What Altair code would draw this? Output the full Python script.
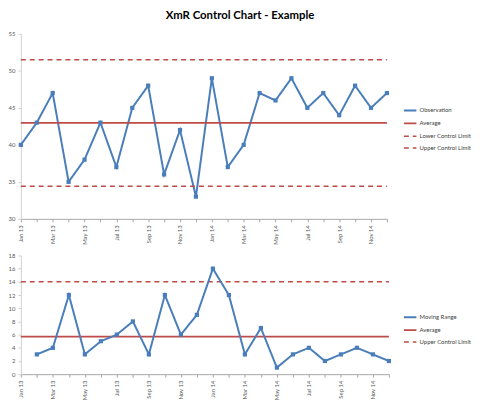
import altair as alt
import pandas as pd

months = ["Jan 13", "Feb 13", "Mar 13", "Apr 13", "May 13", "Jun 13", "Jul 13", "Aug 13",
          "Sep 13", "Oct 13", "Nov 13", "Dec 13", "Jan 14", "Feb 14", "Mar 14", "Apr 14",
          "May 14", "Jun 14", "Jul 14", "Aug 14", "Sep 14", "Oct 14", "Nov 14", "Dec 14"]
observations = [40, 43, 47, 35, 38, 43, 37, 45, 48, 36, 42, 33,
                49, 37, 40, 47, 46, 49, 45, 47, 44, 48, 45, 47]
moving_range = [None, 3, 4, 12, 3, 5, 6, 8, 3, 12, 6, 9,
                16, 12, 3, 7, 1, 3, 4, 2, 3, 4, 3, 2]
x_average = 42.96
x_lcl = 34.4
x_ucl = 51.5
mr_average = 5.7
mr_ucl = 14.0
shown_labels = months[::2]

top_series = ["Observation", "Average", "Lower Control Limit", "Upper Control Limit"]
bot_series = ["Moving Range", "Average", "Upper Control Limit"]

BLUE = "#4A7EBB"
RED = "#BE4B48"
FONT = "Lato"

rows = []
for i, m in enumerate(months):
    rows.append({"month": m, "series": "Observation", "value": observations[i]})
    rows.append({"month": m, "series": "Average", "value": x_average})
    rows.append({"month": m, "series": "Lower Control Limit", "value": x_lcl})
    rows.append({"month": m, "series": "Upper Control Limit", "value": x_ucl})
top_df = pd.DataFrame(rows)

rows = []
for i, m in enumerate(months):
    if moving_range[i] is not None:
        rows.append({"month": m, "series": "Moving Range", "value": moving_range[i]})
    rows.append({"month": m, "series": "Average", "value": mr_average})
    rows.append({"month": m, "series": "Upper Control Limit", "value": mr_ucl})
bot_df = pd.DataFrame(rows)

label_expr = "indexof(" + str(shown_labels) + ", datum.value) >= 0 ? datum.value : ''"

def x_enc():
    return alt.X("month:O", sort=months, scale=alt.Scale(type="point", padding=0),
                 axis=alt.Axis(title=None, labelAngle=270, labelExpr=label_expr,
                               labelFontSize=6, labelColor="#595959", labelFont=FONT,
                               domainColor="#A6A6A6", tickColor="#A6A6A6", tickSize=3,
                               labelPadding=3, grid=False))

def panel(df, series, colors, dashes, widths, ymin, ymax, ystep, lx, ly, w, h):
    leg = alt.Legend(title=None, orient="none", legendX=lx, legendY=ly,
                     symbolType="stroke", symbolSize=160, symbolStrokeWidth=1.5,
                     labelFontSize=6, labelColor="#404040", labelFont=FONT,
                     rowPadding=1, labelOffset=2)
    y = alt.Y("value:Q", scale=alt.Scale(domain=[ymin, ymax], nice=False, zero=False),
              axis=alt.Axis(title=None, values=list(range(ymin, ymax + 1, ystep)),
                            labelFontSize=6, labelColor="#595959", labelFont=FONT,
                            domainColor="#D0D0D0", tickColor="#D0D0D0", tickSize=3,
                            grid=False, labelPadding=3))
    lines = alt.Chart(df).mark_line().encode(
        x=x_enc(), y=y,
        color=alt.Color("series:N", scale=alt.Scale(domain=series, range=colors), legend=leg),
        strokeDash=alt.StrokeDash("series:N", scale=alt.Scale(domain=series, range=dashes), legend=leg),
        strokeWidth=alt.StrokeWidth("series:N", scale=alt.Scale(domain=series, range=widths), legend=None),
        order=alt.Order("series:N"),
    )
    pts = alt.Chart(df).transform_filter(
        alt.datum.series == series[0]
    ).mark_point(shape="square", filled=True, size=18, opacity=1, color=BLUE).encode(
        x=x_enc(), y=y
    )
    return alt.layer(lines, pts).properties(width=w, height=h)

top = panel(top_df, top_series, [BLUE, RED, RED, RED],
            [[1, 0], [1, 0], [5, 4], [5, 4]], [2, 1.5, 1.5, 1.5],
            30, 55, 5, 386, 70, 370, 187)
bot = panel(bot_df, bot_series, [BLUE, RED, RED],
            [[1, 0], [1, 0], [5, 4]], [2, 1.5, 1.5],
            0, 18, 2, 386, 55, 372, 120)

chart = alt.vconcat(top, bot, spacing=8).resolve_scale(
    color="independent", strokeDash="independent", strokeWidth="independent"
).properties(
    title=alt.TitleParams("XmR Control Chart - Example", font=FONT, fontSize=11.5,
                          fontWeight="bold", color="#000000", anchor="middle", offset=9),
    padding=0,
).configure_view(stroke=None)

chart.save("out.html", embed_options={"renderer": "svg", "actions": False})
